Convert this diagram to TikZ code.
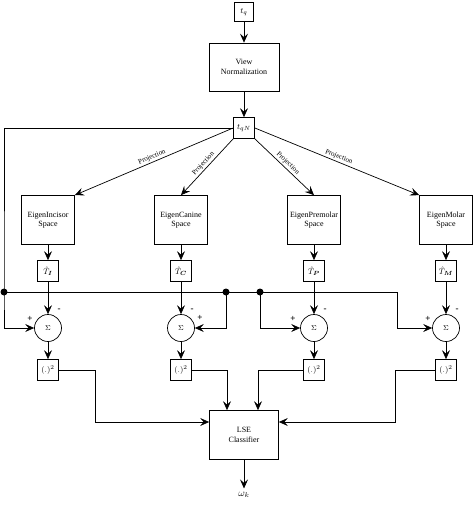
\documentclass[tikz,border=0pt]{standalone}
\usepackage{fontspec}
\setmainfont{Liberation Serif}
\usepackage{amsmath}
\usepackage{bm}
\usetikzlibrary{positioning,arrows.meta}

\begin{document}
\begin{tikzpicture}[
x=1pt, y=-1pt,
line width=0.7pt,
block/.style={
  draw,
  align=center,
  inner sep=1pt,
  font=\fontsize{8}{9.5}\selectfont
  },
smallbox/.style={draw, minimum size=21pt, inner sep=0pt, font=\fontsize{8}{9}\selectfont},
sumnode/.style={draw, circle, minimum size=27pt, inner sep=0pt, font=\fontsize{7.5}{8}\selectfont},
dot/.style={circle, fill, inner sep=0pt, minimum size=7pt},
sign/.style={font=\fontsize{9}{9}\selectfont\bfseries},
arr/.style={-{Stealth[length=9pt,width=8pt,inset=3.5pt]}},
proj/.style={sloped, above, inner sep=1.5pt, font=\fontsize{7}{8}\selectfont}
]
\useasboundingbox (0,0) rectangle (474,508);

\node[smallbox, minimum size=19pt] (tq) at (244,12) {$t_q$};
\node[block, minimum width=70pt, minimum height=48pt] (norm) at (244,67) {View\\Normalization};
\node[smallbox] (tqN) at (244,128) {$t_{qN}$};
\node[block, minimum width=69pt, minimum height=49pt] (lse) at (244,435) {LSE\\Classifier};
\node[font=\fontsize{10}{10}\selectfont] (omega) at (244,495) {$\omega_k$};

\draw[arr] (tq) -- (norm);
\draw[arr] (norm) -- (tqN);
\draw[arr] (lse) -- (omega);

% one column per tooth class
\foreach \n/\x/\name/\sub in {1/48/Incisor/I, 2/181/Canine/C, 3/314/Premolar/P, 4/446/Molar/M}{
  \node[block, minimum width=53pt, minimum height=49pt] (eig\n) at (\x,220) {Eigen\name\\Space};
  \node[smallbox] (hat\n) at (\x,271) {$\hat{T}_{\bm{\sub}}$};
  \node[sumnode] (sum\n) at (\x,328) {$\Sigma$};
  \node[smallbox] (sq\n) at (\x,370) {$(.)^2$};
  \node[sign] at (\x+11,310) {-};
  \draw[arr] (eig\n) -- (hat\n);
  \draw[arr] (hat\n) -- (sum\n);
  \draw[arr] (sum\n) -- (sq\n);
}
\node[sign] at (30,319) {+};
\node[sign] at (200,318) {+};
\node[sign] at (293,319) {+};
\node[sign] at (428,319) {+};

\path[arr]
  (tqN.west) edge node[proj] {Projection} (eig1.north east)
  (tqN.south west) edge node[proj] {Projection} (eig2.north)
  (tqN.south east) edge node[proj] {Projection} (eig3.north)
  (tqN.east) edge node[proj] {Projection} (eig4.north west);

% feedback of t_qN into the summers
\node[dot] (d1) at (4,292) {};
\node[dot] (d2) at (226,292) {};
\node[dot] (d3) at (260,292) {};
\coordinate (corner) at (4,128);
\coordinate (busend) at (397,292);
\draw[arr] (tqN.west) -- (corner) -- (d1.center) |- (sum1.west);
\draw[arr] (d1.center) -- (busend) |- (sum4.west);
\draw[arr] (d2.center) |- (sum2.east);
\draw[arr] (d3.center) |- (sum3.west);

% squared errors into the classifier
\coordinate (k1) at (95,422);
\coordinate (k4) at (395,422);
\draw[arr] (sq1.east) -| (k1) -- (lse.west |- k1);
\draw[arr] (sq4.west) -| (k4) -- (lse.east |- k4);
\draw[arr] (sq2.east) -| ([xshift=-17pt]lse.north);
\draw[arr] (sq3.west) -| ([xshift=14pt]lse.north);
\end{tikzpicture}
\end{document}
